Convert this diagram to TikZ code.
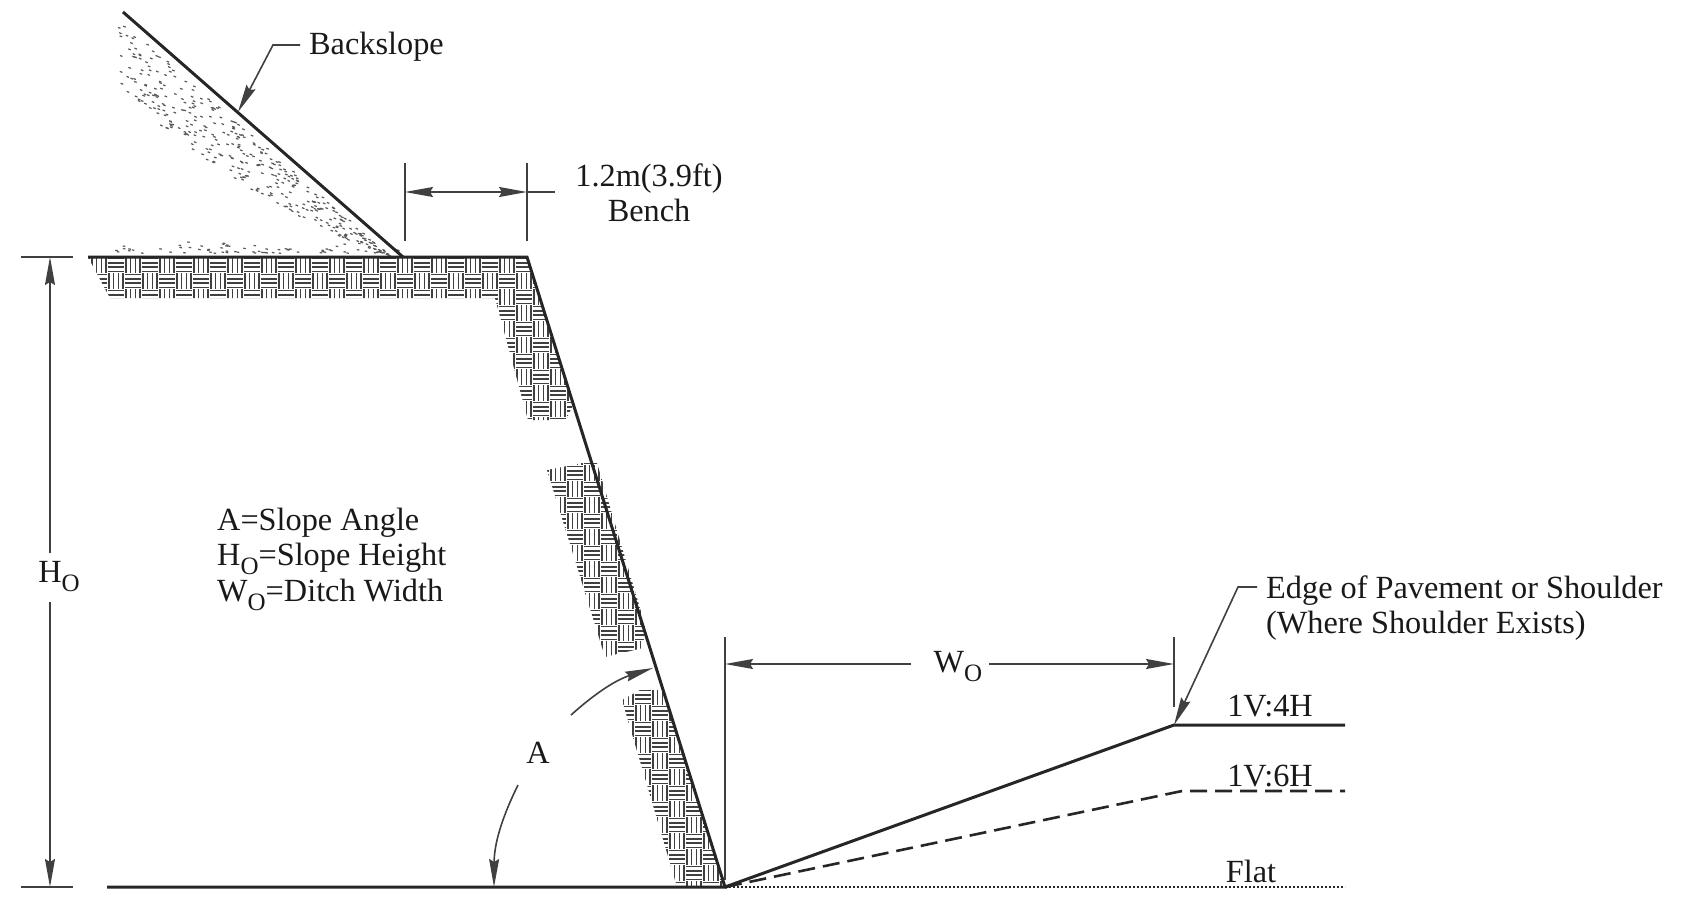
\documentclass[tikz,border=0pt]{standalone}
\usepackage{fontspec}
\setmainfont{Liberation Serif}
\usetikzlibrary{arrows.meta}
\usetikzlibrary{patterns}
\newcommand{\subO}{\raisebox{-0.28em}{\fontsize{25}{25}\selectfont O}}
\pgfdeclarepatternformonly{basket}{\pgfqpoint{22.5pt}{26pt}}{\pgfqpoint{56.5pt}{58pt}}{\pgfqpoint{34pt}{32pt}}{
	\pgftransformshift{\pgfqpoint{22.5pt}{26pt}}
	\pgfsetlinewidth{1.5pt}
	\foreach \o/\h in {1.5/1.3,6.2/5.8,10.8/10.2,15.5/14.7}{
		\pgfpathmoveto{\pgfqpoint{\o pt}{0.3pt}}
		\pgfpathlineto{\pgfqpoint{\o pt}{15.7pt}}
		\pgfpathmoveto{\pgfpoint{\o pt + 17pt}{16.3pt}}
		\pgfpathlineto{\pgfpoint{\o pt + 17pt}{31.7pt}}
		\pgfpathmoveto{\pgfqpoint{17.3pt}{\h pt}}
		\pgfpathlineto{\pgfqpoint{33.7pt}{\h pt}}
		\pgfpathmoveto{\pgfpoint{0.3pt}{\h pt + 16pt}}
		\pgfpathlineto{\pgfpoint{16.7pt}{\h pt + 16pt}}
	}
	\pgfusepath{stroke}
}
\tikzset{
	txt_label/.style = {
		align=left,
		inner sep=0pt,
		text=black!90,
		font=\fontsize{32.3}{35.5}\selectfont
	},
	ground_line/.style = {
		draw=black!85,
		line width=3pt
	},
	thin_line/.style = {
		draw=black!75,
		line width=1.6pt
	},
	dim_arrow/.style = {
		thin_line,
		-{Stealth[length=28pt,width=10pt,inset=3pt]}
	},
	dim_both/.style = {
		thin_line,
		{Stealth[length=28pt,width=10pt,inset=3pt]}-{Stealth[length=28pt,width=10pt,inset=3pt]}
	},
	weave/.style = {
		pattern=basket,
		pattern color=black!75,
		draw=none
	},
	speck/.style = {
		draw=black!65,
		line width=1.2pt
	},
}

\begin{document}
\begin{tikzpicture}[x=1pt,y=-1pt]
\useasboundingbox (0,0) rectangle (1685,907);

% ground profile
\coordinate (back_top) at (123,12);
\coordinate (back_toe) at (403,257);
\coordinate (bench_l) at (88,257);
\coordinate (crest) at (527,257);
\coordinate (toe) at (725,887);
\coordinate (flat_l) at (107,887);
\coordinate (flat_r) at (1345,887);
\coordinate (shldr_4h) at (1174,725);
\coordinate (end_4h) at (1345,725);
\coordinate (shldr_6h) at (1182,791);
\coordinate (end_6h) at (1345,791);

% rock hatching
\path[weave] (bench_l) -- (crest) -- (573,405) -- (566,420) -- (528,420) -- (495,298) -- (110,298) -- cycle;
\path[weave] (582,463) -- (597,463) -- (645,625) -- (643,648) -- (605,657) -- (547,470) -- cycle;
\path[weave] (640,690) -- (663,690) -- (toe) -- (677,887) -- (622,700) -- cycle;

% soil speckle
\pgfmathsetseed{7}
\foreach \i in {1,...,380}{
	\pgfmathsetmacro\st{rnd}
	\pgfmathsetmacro\sd{(72*(1-\st*\st))*rnd+2}
	\pgfmathsetmacro\sx{118+272*\st}
	\pgfmathsetmacro\sy{16+238*\st+\sd}
	\draw[speck] (\sx,\sy) -- ++(2.5,1);
}
\foreach \i in {1,...,70}{
	\pgfmathsetmacro\sx{115+285*rnd}
	\pgfmathsetmacro\sy{253-14*rnd*rnd}
	\draw[speck] (\sx,\sy) -- ++(2.5,0.5);
}

% ground lines
\draw[ground_line] (back_top) -- (back_toe);
\draw[ground_line,line join=miter] (bench_l) -- (crest) -- (toe) -- (flat_l);
\draw[ground_line] (toe) -- (shldr_4h) -- (end_4h);
\draw[ground_line,line width=2.6pt,dash pattern=on 17pt off 8pt] (toe) -- (shldr_6h) -- (end_6h);
\draw[draw=black!85,line width=2.2pt,dash pattern=on 2pt off 2pt] (toe) -- (flat_r);

% labels
\node[txt_label,anchor=west] (lbl_backslope) at (309,47) {Backslope};
\node[txt_label,align=center] (lbl_bench) at (649,193) {1.2m(3.9ft)\\Bench};
\node[txt_label,anchor=west] (lbl_notes) at (217,559) {A=Slope Angle\\H\subO=Slope Height\\W\subO=Ditch Width};
\node[txt_label] (lbl_ho) at (59,577) {H\subO};
\node[txt_label] (lbl_wo) at (958,667) {W\subO};
\node[txt_label] (lbl_a) at (538,753) {A};
\node[txt_label,anchor=west] (lbl_edge) at (1266,608) {Edge of Pavement or Shoulder\\(Where Shoulder Exists)};
\node[txt_label] (lbl_4h) at (1270,706) {1V:4H};
\node[txt_label] (lbl_6h) at (1270,776) {1V:6H};
\node[txt_label] (lbl_flat) at (1251,871) {Flat};

% leaders
\coordinate (back_end) at (300,45);
\coordinate (back_knee) at (273,45);
\coordinate (back_tip) at (238,112);
\draw[dim_arrow] (back_end) -- (back_knee) -- (back_tip);
\coordinate (edge_end) at (1257,587);
\coordinate (edge_knee) at (1238,587);
\draw[dim_arrow] (edge_end) -- (edge_knee) -- (shldr_4h);

% bench dimension
\coordinate (bench_dl) at (405,192);
\coordinate (bench_dr) at (527,192);
\coordinate (bench_dx) at (555,192);
\draw[thin_line] (405,163) -- (405,241);
\draw[thin_line] (527,163) -- (527,241);
\draw[dim_both] (bench_dl) -- (bench_dr);
\draw[thin_line] (bench_dr) -- (bench_dx);

% height dimension
\coordinate (ho_top) at (50,257);
\coordinate (ho_bot) at (50,887);
\coordinate (ho_gap_t) at (50,553);
\coordinate (ho_gap_b) at (50,602);
\draw[thin_line] (21,257) -- (73,257);
\draw[thin_line] (21,887) -- (73,887);
\draw[dim_arrow] (ho_gap_t) -- (ho_top);
\draw[dim_arrow] (ho_gap_b) -- (ho_bot);

% ditch dimension
\coordinate (wo_l) at (725,664);
\coordinate (wo_r) at (1174,664);
\coordinate (wo_gap_l) at (911,664);
\coordinate (wo_gap_r) at (989,664);
\draw[thin_line] (725,637) -- (725,880);
\draw[thin_line] (1174,637) -- (1174,707);
\draw[dim_arrow] (wo_gap_l) -- (wo_l);
\draw[dim_arrow] (wo_gap_r) -- (wo_r);

% slope angle
\coordinate (ang_u) at (571,715);
\coordinate (ang_ut) at (653,668);
\coordinate (ang_l) at (518,785);
\coordinate (ang_lt) at (494,887);
\draw[dim_arrow] (ang_u) to[bend left=12] (ang_ut);
\draw[dim_arrow] (ang_l) to[bend right=13] (ang_lt);
\end{tikzpicture}
\end{document}
